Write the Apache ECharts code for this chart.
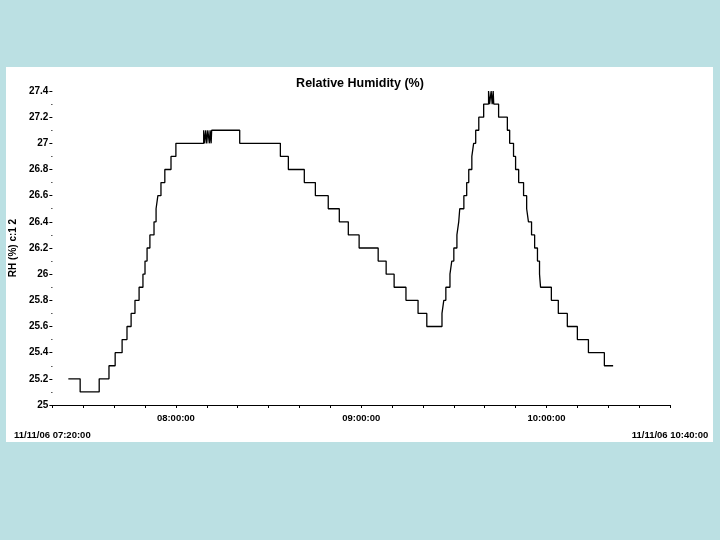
<!DOCTYPE html>
<html>
<head>
<meta charset="utf-8">
<script src="https://cdn.jsdelivr.net/npm/echarts@6/dist/echarts.min.js"></script>
<style>
html,body{margin:0;padding:0;background:#bbe0e3;}
#chart{width:720px;height:540px;}
</style>
</head>
<body>
<div id="chart"></div>
<script>
// ---- data ----
const chartTitle = 'Relative Humidity (%)';
const yAxisName = 'RH (%) c:1 2';
const dateLabel = '11/11/06';
const startTime = '07:20:00';
const endTime = '10:40:00';
const hourLabels = ['08:00:00', '09:00:00', '10:00:00'];

// change times (value holds from this time until the next change)
const times = [
  '07:25:10','07:29:00','07:35:10','07:38:20','07:40:20','07:42:35','07:44:10','07:45:30',
  '07:46:45','07:48:05','07:49:20','07:50:00','07:50:40','07:51:35','07:52:55','07:53:35',
  '07:54:10','07:55:10','07:56:25','07:58:25','08:00:00','08:09:00','08:09:20','08:09:40',
  '08:10:00','08:10:20','08:10:50','08:11:05','08:11:25','08:11:35','08:20:40','08:33:50',
  '08:36:25','08:41:35','08:45:10','08:49:20','08:52:55','08:55:50','08:59:20','09:05:30',
  '09:08:05','09:10:40','09:14:30','09:18:25','09:21:15','09:26:10','09:26:45','09:27:25',
  '09:28:45','09:29:20','09:30:00','09:31:00','09:31:35','09:31:55','09:33:15','09:34:10',
  '09:34:50','09:35:50','09:36:25','09:37:05','09:38:05','09:39:40','09:41:15','09:41:35',
  '09:42:05','09:42:25','09:42:45','09:42:55','09:44:30','09:47:20','09:48:05','09:49:20',
  '09:50:00','09:51:00','09:52:35','09:53:35','09:54:10','09:55:10','09:56:10','09:57:05',
  '09:57:45','09:58:05','10:01:35','10:03:50','10:06:45','10:10:00','10:13:35','10:18:45',
  '10:21:35'
];
const rhValues = [
  25.2,25.1,25.2,25.3,25.4,25.5,25.6,25.7,
  25.8,25.9,26.0,26.1,26.2,26.3,26.4,26.5,
  26.6,26.7,26.8,26.9,27.0,27.1,27.0,27.1,
  27.0,27.1,27.0,27.1,27.0,27.1,27.0,26.9,
  26.8,26.7,26.6,26.5,26.4,26.3,26.2,26.1,
  26.0,25.9,25.8,25.7,25.6,25.7,25.8,25.9,
  26.0,26.1,26.2,26.3,26.4,26.5,26.6,26.7,
  26.8,26.9,27.0,27.1,27.2,27.3,27.4,27.3,
  27.4,27.3,27.4,27.3,27.2,27.1,27.0,26.9,
  26.8,26.7,26.6,26.5,26.4,26.3,26.2,26.1,
  26.0,25.9,25.8,25.7,25.6,25.5,25.4,25.3,
  25.3
];

// ---- helpers ----
function toMin(t) {
  const p = t.split(':').map(Number);
  return p[0] * 60 + p[1] + p[2] / 60;
}
const t0 = toMin(startTime);
const t1 = toMin(endTime);
function fmt(m) {
  const total = Math.round((m + t0) * 60);
  const h = Math.floor(total / 3600), mi = Math.floor((total % 3600) / 60), s = total % 60;
  const pad = n => (n < 10 ? '0' : '') + n;
  return pad(h) + ':' + pad(mi) + ':' + pad(s);
}
const seriesData = times.map((t, i) => [toMin(t) - t0, rhValues[i]]);

const FONT = '"Liberation Sans Narrow", "Arial Narrow", "Liberation Sans", Arial, sans-serif';

const chart = echarts.init(document.getElementById('chart'));
chart.setOption({
  backgroundColor: '#bbe0e3',
  animation: false,
  graphic: [{
    type: 'rect', z: -10, silent: true,
    shape: { x: 6, y: 67, width: 707, height: 375 },
    style: { fill: '#ffffff' }
  }],
  title: {
    text: chartTitle,
    left: 'center',
    top: 72,
    textStyle: { fontFamily: FONT, fontWeight: 'bold', fontSize: 12.5, color: '#000' }
  },
  grid: { left: 50, right: 50, top: 91, bottom: 135 },
  xAxis: [{
    type: 'value',
    min: 0,
    max: t1 - t0,
    interval: 10,
    axisLine: { show: true, lineStyle: { color: '#000', width: 1 } },
    axisTick: { show: true, length: 3, lineStyle: { color: '#000' } },
    splitLine: { show: false },
    axisLabel: {
      margin: 8,
      color: '#000',
      fontFamily: FONT, fontWeight: 'bold', fontSize: 9.5,
      formatter: function (v) {
        const s = fmt(v);
        return hourLabels.indexOf(s) >= 0 ? s : '';
      }
    }
  }, {
    type: 'value',
    position: 'bottom',
    min: 0,
    max: t1 - t0,
    interval: t1 - t0,
    axisLine: { show: false },
    axisTick: { show: false },
    splitLine: { show: false },
    axisLabel: {
      margin: 25,
      color: '#000',
      fontFamily: FONT, fontWeight: 'bold', fontSize: 9.5,
      formatter: function (v) { return dateLabel + ' ' + fmt(v); }
    }
  }],
  yAxis: {
    type: 'value',
    min: 25,
    max: 27.4,
    interval: 0.2,
    name: yAxisName,
    nameLocation: 'middle',
    nameRotate: 90,
    nameGap: 30,
    nameTextStyle: { fontFamily: FONT, fontWeight: 'bold', fontSize: 10, color: '#000' },
    axisLine: { show: false },
    axisTick: { show: true, length: 3, lineStyle: { color: '#000' } },
    minorTick: { show: true, splitNumber: 2, length: 1, lineStyle: { color: '#000' } },
    splitLine: { show: false },
    minorSplitLine: { show: false },
    axisLabel: {
      margin: 4,
      color: '#000',
      fontFamily: FONT, fontWeight: 'bold', fontSize: 10
    }
  },
  series: [{
    type: 'line',
    xAxisIndex: 0,
    step: 'end',
    showSymbol: false,
    data: seriesData,
    lineStyle: { color: '#000', width: 1.3 }
  }]
});
</script>
</body>
</html>
